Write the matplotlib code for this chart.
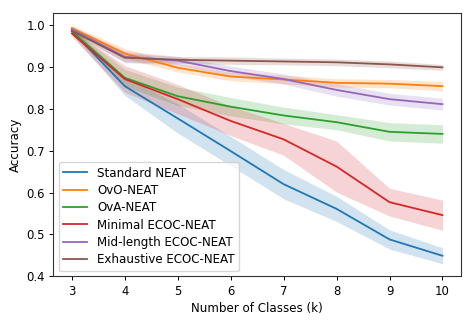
import matplotlib

matplotlib.use("Agg")

import matplotlib.pyplot as plt
import numpy as np

plt.rcParams["font.size"] = 8.6

classes = [3, 4, 5, 6, 7, 8, 9, 10]

labels = [
    "Standard NEAT",
    "OvO-NEAT",
    "OvA-NEAT",
    "Minimal ECOC-NEAT",
    "Mid-length ECOC-NEAT",
    "Exhaustive ECOC-NEAT",
]

# mean accuracy per number of classes
standard_mean = [0.986, 0.854, 0.777, 0.699, 0.620, 0.561, 0.488, 0.449]
ovo_mean = [0.993, 0.932, 0.898, 0.877, 0.870, 0.862, 0.860, 0.854]
ova_mean = [0.985, 0.874, 0.830, 0.805, 0.784, 0.768, 0.745, 0.740]
minimal_mean = [0.980, 0.871, 0.823, 0.771, 0.727, 0.662, 0.577, 0.546]
midlength_mean = [0.990, 0.924, 0.915, 0.890, 0.871, 0.845, 0.823, 0.811]
exhaustive_mean = [0.986, 0.922, 0.917, 0.915, 0.913, 0.911, 0.906, 0.899]

# spread of the shaded band around each mean
standard_std = [0.008, 0.022, 0.035, 0.035, 0.035, 0.030, 0.023, 0.019]
ovo_std = [0.006, 0.012, 0.010, 0.010, 0.010, 0.010, 0.010, 0.011]
ova_std = [0.006, 0.020, 0.022, 0.022, 0.020, 0.018, 0.022, 0.022]
minimal_std = [0.008, 0.032, 0.035, 0.035, 0.038, 0.061, 0.033, 0.036]
midlength_std = [0.006, 0.014, 0.010, 0.012, 0.012, 0.015, 0.014, 0.014]
exhaustive_std = [0.006, 0.010, 0.008, 0.009, 0.008, 0.008, 0.008, 0.007]

means = [standard_mean, ovo_mean, ova_mean, minimal_mean, midlength_mean, exhaustive_mean]
stds = [standard_std, ovo_std, ova_std, minimal_std, midlength_std, exhaustive_std]
colors = ["#1f77b4", "#ff7f0e", "#2ca02c", "#d62728", "#9467bd", "#8c564b"]

fig = plt.figure(figsize=(4.74, 3.23), dpi=100)
ax = fig.add_axes([0.1125, 0.1446, 0.8601, 0.8142])

x = np.array(classes)
for label, mean, std, color in zip(labels, means, stds, colors):
    mean = np.array(mean)
    std = np.array(std)
    ax.fill_between(x, mean - std, mean + std, color=color, alpha=0.2, linewidth=0)
    ax.plot(x, mean, color=color, linewidth=1.3, label=label)

ax.set_xlim(2.65, 10.35)
ax.set_ylim(0.4, 1.028)
ax.set_xticks(classes)
ax.set_yticks([0.4, 0.5, 0.6, 0.7, 0.8, 0.9, 1.0])
ax.set_xlabel("Number of Classes (k)", labelpad=3.5)
ax.set_ylabel("Accuracy", labelpad=3)
ax.tick_params(labelsize=8.4, length=3, width=0.7, pad=3)
for spine in ax.spines.values():
    spine.set_linewidth(0.8)
    spine.set_color("#333333")

ax.legend(loc="lower left", handlelength=2.0, borderpad=0.4, labelspacing=0.36,
          borderaxespad=0.45)

fig.savefig("out.png", dpi=100)
